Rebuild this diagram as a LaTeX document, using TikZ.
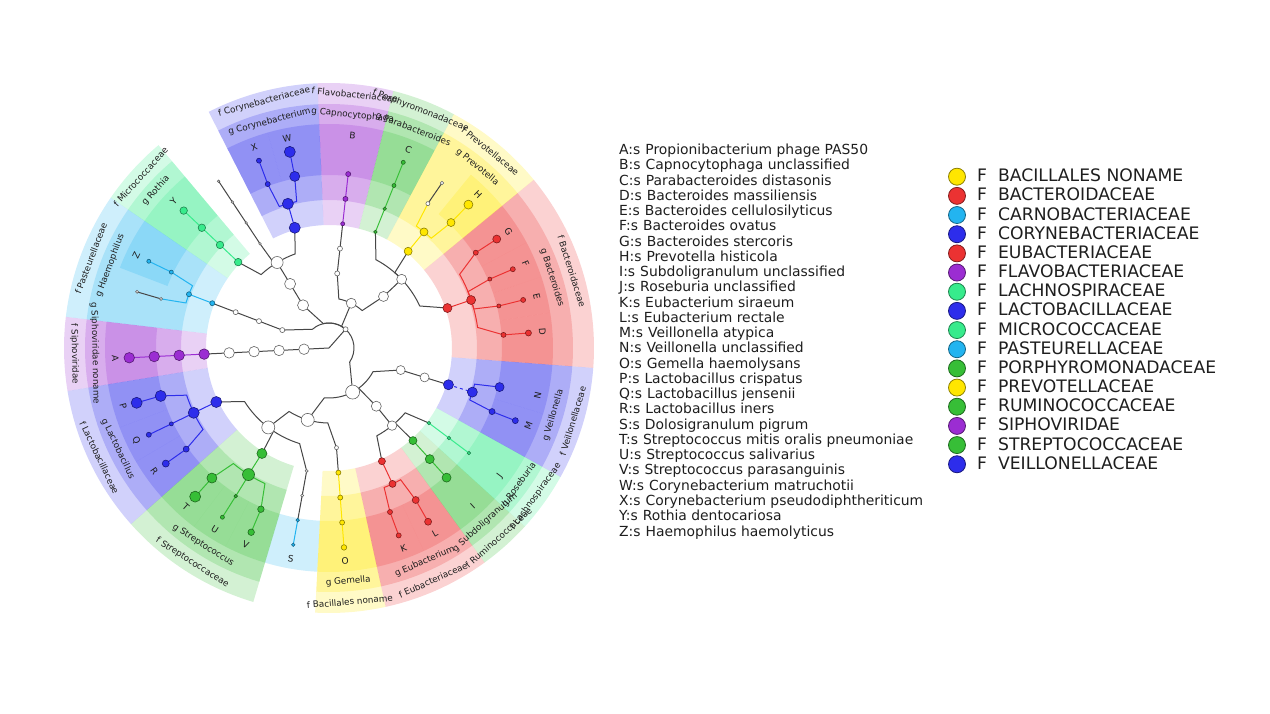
\documentclass[tikz,border=0pt]{standalone}
\usepackage{fontspec}
\setmainfont{DejaVu Sans}
\pgfdeclarelayer{bg}
\pgfdeclarelayer{mid}
\pgfsetlayers{bg,mid,main}
\definecolor{cb}{RGB}{45,45,235}
\definecolor{cr}{RGB}{235,50,50}
\definecolor{cg}{RGB}{55,190,55}
\definecolor{cy}{RGB}{255,230,0}
\definecolor{cp}{RGB}{155,45,210}
\definecolor{cs}{RGB}{55,235,140}
\definecolor{cc}{RGB}{35,180,240}
\definecolor{gl}{RGB}{70,70,70}
\definecolor{gE}{RGB}{100,100,100}
\definecolor{tx}{RGB}{30,30,30}
\newcommand\Nd[5]{\node[mk,minimum size=#4pt,fill=#5,draw=#5!55!black] (#1) at (#2:#3pt) {};}
\newcommand\Nw[4]{\node[mk,minimum size=#4pt,fill=white,draw=gE] (#1) at (#2:#3pt) {};}
\newcommand\Br[6][]{%
  \begin{pgfonlayer}{mid}%
  \ifdim #4pt=#5pt
    \draw[br,#1] (#2.center) -- (#3.center);
  \else
    \pgfmathsetmacro\ea{#4+0.75*(#5-#4)}%
    \draw[br,#1] (#2.center) arc[start angle=#4,end angle=\ea,radius=#6pt] -- (#3.center);
  \fi
  \end{pgfonlayer}}
\newcommand\Sec[5]{\begin{pgfonlayer}{bg}\fill[#5,fill opacity=0.22] (#1:#3pt) arc[start angle=#1,end angle=#2,radius=#3pt] -- (#2:#4pt) arc[start angle=#2,end angle=#1,radius=#4pt] -- cycle;\end{pgfonlayer}}
\newcommand\CF[3]{\Sec{#1}{#2}{123}{265}{#3}}
\newcommand\CG[3]{\Sec{#1}{#2}{148}{244}{#3}}
\newcommand\CS[3]{\Sec{#1}{#2}{173}{224}{#3}}
\newcommand\Rl[5][rl]{%
  \pgfmathsetmacro\rr{ifthenelse(mod(#3,360)<180,#3-90,#3+90)}%
  \node[#1,rotate=\rr] (#2) at (#3:#4pt) {#5};}
\begin{document}
\begin{tikzpicture}[x=1pt,y=1pt,
  mk/.style={circle,inner sep=0pt,line width=0.6pt},
  br/.style={draw=gl,line width=1pt},
  rl/.style={inner sep=0pt,font=\fontsize{8.8}{10}\selectfont,text=tx},
  lt/.style={inner sep=0pt,font=\fontsize{9}{10}\selectfont,text=tx},
  lg/.style={inner sep=0pt,font=\fontsize{13.9}{15}\selectfont,text=tx},
  lf/.style={inner sep=0pt,font=\fontsize{17.2}{20}\selectfont,text=tx},
  lc/.style={circle,inner sep=0pt,minimum size=17pt,line width=0.8pt}]
\useasboundingbox (0,0) rectangle (1270,-714);
\begin{scope}[shift={(329,-348)}]
% ---------- background wedges
\CF{173.25}{189.35}{cp}\CG{173.25}{189.35}{cp}\CS{173.25}{189.35}{cp}
\CF{189.35}{221.65}{cb}\CG{189.35}{221.65}{cb}\CS{189.35}{200.8}{cb}\CS{200.8}{210.5}{cb}\CS{210.5}{221.65}{cb}
\CF{221.65}{253.4}{cg}\CG{221.65}{253.4}{cg}\CS{221.65}{232.9}{cg}\CS{232.9}{242.45}{cg}\CS{242.45}{253.4}{cg}
\CS{253.4}{267}{cc}
\CF{267}{282.35}{cy}\CG{267}{282.35}{cy}\CS{267}{282.35}{cy}
\CF{282.35}{305.95}{cr}\CG{282.35}{305.95}{cr}\CS{282.35}{295.05}{cr}\CS{295.05}{305.95}{cr}
\CF{305.95}{317.65}{cg}\CG{305.95}{317.65}{cg}\CS{305.95}{317.65}{cg}
\CF{317.65}{330.9}{cs}\CG{317.65}{330.9}{cs}\CS{317.65}{330.9}{cs}
\CF{330.9}{355.7}{cb}\CG{330.9}{355.7}{cb}\CS{330.9}{342.9}{cb}\CS{342.9}{355.7}{cb}
\CF{355.7}{399.4}{cr}\CG{355.7}{399.4}{cr}\CS{355.7}{369.1}{cr}\CS{369.1}{378.55}{cr}\CS{378.55}{388.1}{cr}\CS{388.1}{399.4}{cr}
\CF{399.4}{421.9}{cy}\CG{399.4}{421.9}{cy}\CS{399.4}{410.7}{cy}
\CF{421.9}{435.95}{cg}\CG{421.9}{435.95}{cg}\CS{421.9}{435.95}{cg}
\CF{435.95}{452.5}{cp}\CG{435.95}{452.5}{cp}\CS{435.95}{452.5}{cp}
\CF{452.5}{477}{cb}\CG{452.5}{477}{cb}\CS{452.5}{465.9}{cb}\CS{465.9}{477}{cb}
\CF{490.05}{505.45}{cs}\CG{490.05}{505.45}{cs}\CS{490.05}{505.45}{cs}
\CF{505.45}{533.25}{cc}\CG{505.45}{533.25}{cc}\CS{505.45}{519}{cc}
% ---------- nodes
\coordinate (root) at (0,0);
\Nw{kV}{182.8}{25}{10.5}
\Nw{pV}{182.8}{50}{10.5}
\Nw{cV}{182.8}{75}{10.5}
\Nw{oV}{182.8}{100}{10.5}
\Nd{fA}{182.8}{125}{10.5}{cp}
\Nd{gA}{182.8}{150}{10.5}{cp}
\Nd{sA}{182.8}{175}{10.5}{cp}
\Nd{tA}{182.8}{200}{10.5}{cp}
\Nw{kB}{408.6}{25}{5}
\Nw{pF}{298.2}{50}{14}
\Nw{cBa}{253.5}{75}{13}
\Nw{oLa}{232.6}{100}{13}
\Nd{fLa}{205.6}{125}{11}{cb}
\Nd{gLa}{205.6}{150}{11}{cb}
\Nd{sP}{195.9}{175}{11}{cb}
\Nd{tP}{195.9}{200}{11}{cb}
\Nd{sQ}{205.7}{175}{4}{cb}
\Nd{tQ}{205.7}{200}{5}{cb}
\Nd{sR}{215.3}{175}{6}{cb}
\Nd{tR}{215.3}{200}{7}{cb}
\Nd{fSt}{237.55}{125}{10}{cg}
\Nd{gSt}{237.55}{150}{12}{cg}
\Nd{sT}{228}{175}{10}{cg}
\Nd{tT}{228}{200}{11}{cg}
\Nd{sU}{237.8}{175}{3.5}{cg}
\Nd{tU}{237.8}{200}{4}{cg}
\Nd{sV}{247.1}{175}{6.5}{cg}
\Nd{tV}{247.1}{200}{6.5}{cg}
\Nw{fCa}{259.7}{125}{3}
\Nw{gCa}{259.7}{150}{3}
\Nd{sS}{259.7}{175}{3.5}{cc}
\Nd{tS}{259.7}{200}{3.5}{cc}
\Nw{oBc}{274.3}{100}{4}
\Nd{fGe}{274.3}{125}{5}{cy}
\Nd{gGe}{274.3}{150}{5}{cy}
\Nd{sO}{274.3}{175}{5}{cy}
\Nd{tO}{274.3}{200}{5.5}{cy}
\Nw{cCl}{309.1}{75}{10}
\Nw{oCl}{309.1}{100}{9.5}
\Nd{fEu}{295.05}{125}{7}{cr}
\Nd{gEu}{295.05}{150}{7}{cr}
\Nd{sK}{290.4}{175}{5}{cr}
\Nd{tK}{290.4}{200}{5}{cr}
\Nd{sL}{299.7}{175}{7}{cr}
\Nd{tL}{299.7}{200}{7}{cr}
\Nd{fRu}{312.2}{125}{8}{cg}
\Nd{gRu}{312.2}{150}{9}{cg}
\Nd{sI}{312.2}{175}{9}{cg}
\Nd{fLc}{323.1}{125}{3.5}{cs}
\Nd{gLc}{323.1}{150}{3.5}{cs}
\Nd{sJ}{323.1}{175}{3.5}{cs}
\Nw{cNe}{342.9}{75}{9}
\Nw{oSe}{342.9}{100}{9}
\Nd{fVe}{342.9}{125}{10}{cb}
\Nd{gVe}{342.9}{150}{10}{cb}
\Nd{sM}{338.7}{175}{6}{cb}
\Nd{tM}{338.7}{200}{6}{cb}
\Nd{sN}{347.1}{175}{9}{cb}
\Nw{pBd}{423.55}{50}{10}
\Nw{cBd}{403.4}{75}{10}
\Nw{oBd}{403.4}{100}{10}
\Nd{fBc}{378.65}{125}{9}{cr}
\Nd{gBc}{378.65}{150}{9}{cr}
\Nd{sD}{364.3}{175}{5}{cr}
\Nd{tD}{364.3}{200}{6}{cr}
\Nd{sE}{373.9}{175}{4}{cr}
\Nd{tE}{373.9}{200}{5}{cr}
\Nd{sF}{383.2}{175}{4}{cr}
\Nd{tF}{383.2}{200}{5}{cr}
\Nd{sG}{393}{175}{5}{cr}
\Nd{tG}{393}{200}{8}{cr}
\Nd{fPv}{410.7}{125}{8}{cy}
\Nd{gPv}{410.7}{150}{8}{cy}
\Nd{sH}{405.8}{175}{8}{cy}
\Nd{tH}{405.8}{200}{9}{cy}
\Nw{sHb}{415.6}{175}{4}
\Nw{tHb}{415.6}{200}{3.5}
\Nd{fPo}{428.2}{125}{3.5}{cg}
\Nd{gPo}{428.2}{150}{3.5}{cg}
\Nd{sC}{428.2}{175}{4}{cg}
\Nd{tC}{428.2}{200}{4}{cg}
\Nw{cFl}{443.7}{75}{5}
\Nw{oFl}{443.7}{100}{5}
\Nd{fFl}{443.7}{125}{4}{cp}
\Nd{gFl}{443.7}{150}{5}{cp}
\Nd{sB}{443.7}{175}{5}{cp}
\Nw{pAc}{481.25}{50}{11}
\Nw{cAc}{481.25}{75}{11}
\Nw{oAc}{481.25}{100}{12}
\Nd{fCo}{465.9}{125}{11}{cb}
\Nd{gCo}{465.9}{150}{11}{cb}
\Nd{sW}{461.3}{175}{10}{cb}
\Nd{tW}{461.3}{200}{11}{cb}
\Nd{sX}{470.5}{175}{5}{cb}
\Nd{tX}{470.5}{200}{5}{cb}
\Nw{fPr}{483.5}{125}{2.5}
\Nw{gPr}{483.5}{150}{2.5}
\Nw{sPr}{483.5}{175}{2.5}
\Nw{tPr}{483.5}{200}{2.5}
\Nd{fMi}{496.6}{125}{7.5}{cs}
\Nd{gMi}{496.6}{150}{7.5}{cs}
\Nd{sY}{496.6}{175}{7.5}{cs}
\Nd{tY}{496.6}{200}{7.5}{cs}
\Nw{pPt}{519}{50}{5}
\Nw{cPt}{519}{75}{5}
\Nw{oPt}{519}{100}{5}
\Nd{fPt}{519}{125}{5}{cc}
\Nd{gPt}{519}{150}{5}{cc}
\Nd{sZ}{514.3}{175}{4}{cc}
\Nd{tZ}{514.3}{200}{4}{cc}
\Nw{sZb}{523.7}{175}{3}
\Nw{tZb}{523.7}{200}{3}
% ---------- branches
\begin{pgfonlayer}{mid}\draw[br] (root) -- (kV.center); \draw[br] (root) -- (kB.center);\end{pgfonlayer}
\Br{kV}{pV}{182.8}{182.8}{25}
\Br{pV}{cV}{182.8}{182.8}{50}
\Br{cV}{oV}{182.8}{182.8}{75}
\Br{oV}{fA}{182.8}{182.8}{100}
\Br[cp]{fA}{gA}{182.8}{182.8}{125}
\Br[cp]{gA}{sA}{182.8}{182.8}{150}
\Br[cp]{sA}{tA}{182.8}{182.8}{175}
\Br{kB}{pF}{408.6}{298.2}{25}
\Br{kB}{pBd}{408.6}{423.55}{25}
\Br{kB}{pAc}{408.6}{481.25}{25}
\Br{kB}{pPt}{408.6}{519}{25}
\Br{pF}{cBa}{298.2}{253.5}{50}
\Br{pF}{cCl}{298.2}{309.1}{50}
\Br{pF}{cNe}{298.2}{342.9}{50}
\Br{cBa}{oLa}{253.5}{232.6}{75}
\Br{cBa}{oBc}{253.5}{274.3}{75}
\Br{oLa}{fLa}{232.6}{205.6}{100}
\Br{oLa}{fSt}{232.6}{237.55}{100}
\Br{oLa}{fCa}{232.6}{259.7}{100}
\Br[cb]{fLa}{gLa}{205.6}{205.6}{125}
\Br[cb]{gLa}{sP}{205.6}{195.9}{150}
\Br[cb]{gLa}{sQ}{205.6}{205.7}{150}
\Br[cb]{gLa}{sR}{205.6}{215.3}{150}
\Br[cb]{sP}{tP}{195.9}{195.9}{175}
\Br[cb]{sQ}{tQ}{205.7}{205.7}{175}
\Br[cb]{sR}{tR}{215.3}{215.3}{175}
\Br[cg]{fSt}{gSt}{237.55}{237.55}{125}
\Br[cg]{gSt}{sT}{237.55}{228}{150}
\Br[cg]{gSt}{sU}{237.55}{237.8}{150}
\Br[cg]{gSt}{sV}{237.55}{247.1}{150}
\Br[cg]{sT}{tT}{228}{228}{175}
\Br[cg]{sU}{tU}{237.8}{237.8}{175}
\Br[cg]{sV}{tV}{247.1}{247.1}{175}
\Br{fCa}{gCa}{259.7}{259.7}{125}
\Br{gCa}{sS}{259.7}{259.7}{150}
\Br[cc]{sS}{tS}{259.7}{259.7}{175}
\Br{oBc}{fGe}{274.3}{274.3}{100}
\Br[cy]{fGe}{gGe}{274.3}{274.3}{125}
\Br[cy]{gGe}{sO}{274.3}{274.3}{150}
\Br[cy]{sO}{tO}{274.3}{274.3}{175}
\Br{cCl}{oCl}{309.1}{309.1}{75}
\Br{oCl}{fEu}{309.1}{295.05}{100}
\Br{oCl}{fRu}{309.1}{312.2}{100}
\Br{oCl}{fLc}{309.1}{323.1}{100}
\Br[cr]{fEu}{gEu}{295.05}{295.05}{125}
\Br[cr]{gEu}{sK}{295.05}{290.4}{150}
\Br[cr]{gEu}{sL}{295.05}{299.7}{150}
\Br[cr]{sK}{tK}{290.4}{290.4}{175}
\Br[cr]{sL}{tL}{299.7}{299.7}{175}
\Br[cg]{fRu}{gRu}{312.2}{312.2}{125}
\Br[cg]{gRu}{sI}{312.2}{312.2}{150}
\Br[cs]{fLc}{gLc}{323.1}{323.1}{125}
\Br[cs]{gLc}{sJ}{323.1}{323.1}{150}
\Br{cNe}{oSe}{342.9}{342.9}{75}
\Br{oSe}{fVe}{342.9}{342.9}{100}
\Br[cb,dashed]{fVe}{gVe}{342.9}{342.9}{125}
\Br[cb]{gVe}{sM}{342.9}{338.7}{150}
\Br[cb]{gVe}{sN}{342.9}{347.1}{150}
\Br[cb]{sM}{tM}{338.7}{338.7}{175}
\Br{pBd}{cBd}{423.55}{403.4}{50}
\Br{pBd}{cFl}{423.55}{443.7}{50}
\Br{cBd}{oBd}{403.4}{403.4}{75}
\Br{oBd}{fBc}{403.4}{378.65}{100}
\Br{oBd}{fPv}{403.4}{410.7}{100}
\Br{oBd}{fPo}{403.4}{428.2}{100}
\Br[cr]{fBc}{gBc}{378.65}{378.65}{125}
\Br[cr]{gBc}{sD}{378.65}{364.3}{150}
\Br[cr]{gBc}{sE}{378.65}{373.9}{150}
\Br[cr]{gBc}{sF}{378.65}{383.2}{150}
\Br[cr]{gBc}{sG}{378.65}{393}{150}
\Br[cr]{sD}{tD}{364.3}{364.3}{175}
\Br[cr]{sE}{tE}{373.9}{373.9}{175}
\Br[cr]{sF}{tF}{383.2}{383.2}{175}
\Br[cr]{sG}{tG}{393}{393}{175}
\Br[cy]{fPv}{gPv}{410.7}{410.7}{125}
\Br[cy]{gPv}{sH}{410.7}{405.8}{150}
\Br[cy]{gPv}{sHb}{410.7}{415.6}{150}
\Br[cy]{sH}{tH}{405.8}{405.8}{175}
\Br{sHb}{tHb}{415.6}{415.6}{175}
\Br[cg]{fPo}{gPo}{428.2}{428.2}{125}
\Br[cg]{gPo}{sC}{428.2}{428.2}{150}
\Br[cg]{sC}{tC}{428.2}{428.2}{175}
\Br{cFl}{oFl}{443.7}{443.7}{75}
\Br{oFl}{fFl}{443.7}{443.7}{100}
\Br[cp]{fFl}{gFl}{443.7}{443.7}{125}
\Br[cp]{gFl}{sB}{443.7}{443.7}{150}
\Br{pAc}{cAc}{481.25}{481.25}{50}
\Br{cAc}{oAc}{481.25}{481.25}{75}
\Br{oAc}{fCo}{481.25}{465.9}{100}
\Br{oAc}{fPr}{481.25}{483.5}{100}
\Br{oAc}{fMi}{481.25}{496.6}{100}
\Br[cb]{fCo}{gCo}{465.9}{465.9}{125}
\Br[cb]{gCo}{sW}{465.9}{461.3}{150}
\Br[cb]{gCo}{sX}{465.9}{470.5}{150}
\Br[cb]{sW}{tW}{461.3}{461.3}{175}
\Br[cb]{sX}{tX}{470.5}{470.5}{175}
\Br{fPr}{gPr}{483.5}{483.5}{125}
\Br{gPr}{sPr}{483.5}{483.5}{150}
\Br{sPr}{tPr}{483.5}{483.5}{175}
\Br[cs]{fMi}{gMi}{496.6}{496.6}{125}
\Br[cs]{gMi}{sY}{496.6}{496.6}{150}
\Br[cs]{sY}{tY}{496.6}{496.6}{175}
\Br{pPt}{cPt}{519}{519}{50}
\Br{cPt}{oPt}{519}{519}{75}
\Br{oPt}{fPt}{519}{519}{100}
\Br[cc]{fPt}{gPt}{519}{519}{125}
\Br[cc]{gPt}{sZ}{519}{514.3}{150}
\Br[cc]{gPt}{sZb}{519}{523.7}{150}
\Br[cc]{sZ}{tZ}{514.3}{514.3}{175}
\Br{sZb}{tZb}{523.7}{523.7}{175}
% ---------- ring labels
\Rl{g1}{181.3}{234}{g Siphoviridae noname}\Rl{f1}{181.3}{254.5}{f Siphoviridae}
\Rl{g2}{205.5}{234}{g Lactobacillus}\Rl{f2}{205.5}{254.5}{f Lactobacillaceae}
\Rl{g3}{237.5}{234}{g Streptococcus}\Rl{f3}{237.5}{254.5}{f Streptococcaceae}
\Rl{g4}{274.7}{234}{g Gemella}\Rl{f4}{274.7}{254.5}{f Bacillales noname}
\Rl{g5}{294.15}{234}{g Eubacterium}\Rl{f5}{294.15}{254.5}{f Eubacteriaceae}
\Rl{g6}{311.8}{234}{g Subdoligranulum}\Rl{f6}{311.8}{254.5}{f Ruminococcaceae}
\Rl{g7}{324.3}{234}{g Roseburia}\Rl{f7}{324.3}{254.5}{f Lachnospiraceae}
\Rl{g8}{343.3}{234}{g Veillonella}\Rl{f8}{343.3}{254.5}{f Veillonellaceae}
\Rl{g9}{377.55}{234}{g Bacteroides}\Rl{f9}{377.55}{254.5}{f Bacteroidaceae}
\Rl{g10}{410.65}{234}{g Prevotella}\Rl{f10}{410.65}{254.5}{f Prevotellaceae}
\Rl{g11}{428.9}{234}{g Parabacteroides}\Rl{f11}{428.9}{254.5}{f Porphyromonadaceae}
\Rl{g12}{444.2}{234}{g Capnocytophaga}\Rl{f12}{444.2}{254.5}{f Flavobacteriaceae}
\Rl{g13}{464.75}{234}{g Corynebacterium}\Rl{f13}{464.75}{254.5}{f Corynebacteriaceae}
\Rl{g14}{497.75}{234}{g Rothia}\Rl{f14}{497.75}{254.5}{f Micrococcaceae}
\Rl{g15}{519.35}{234}{g Haemophilus}\Rl{f15}{519.35}{254.5}{f Pasteurellaceae}
% ---------- letters
\Rl[lt]{LA}{182.8}{214}{A}\Rl[lt]{LP}{195.9}{214}{P}\Rl[lt]{LQ}{205.7}{214}{Q}
\Rl[lt]{LR}{215.3}{214}{R}\Rl[lt]{LT}{228}{214}{T}\Rl[lt]{LU}{237.8}{214}{U}
\Rl[lt]{LV}{247.1}{214}{V}\Rl[lt]{LS}{259.7}{214}{S}\Rl[lt]{LO}{274.3}{214}{O}
\Rl[lt]{LK}{290.4}{214}{K}\Rl[lt]{LL}{299.7}{214}{L}\Rl[lt]{LI}{312.2}{214}{I}
\Rl[lt]{LJ}{323.1}{214}{J}\Rl[lt]{LM}{338.7}{214}{M}\Rl[lt]{LN}{347.1}{214}{N}
\Rl[lt]{LD}{364.3}{214}{D}\Rl[lt]{LE}{373.9}{214}{E}\Rl[lt]{LF}{383.2}{214}{F}
\Rl[lt]{LG}{393}{214}{G}\Rl[lt]{LH}{405.8}{214}{H}\Rl[lt]{LC}{428.2}{214}{C}
\Rl[lt]{LB}{443.7}{214}{B}\Rl[lt]{LW}{461.3}{214}{W}\Rl[lt]{LX}{470.5}{214}{X}
\Rl[lt]{LY}{496.6}{214}{Y}\Rl[lt]{LZ}{514.3}{214}{Z}
\end{scope}
% ---------- species legend
\foreach \lb/\nm [count=\i from 0] in {A/Propionibacterium phage PAS50,B/Capnocytophaga unclassified,C/Parabacteroides distasonis,D/Bacteroides massiliensis,E/Bacteroides cellulosilyticus,F/Bacteroides ovatus,G/Bacteroides stercoris,H/Prevotella histicola,I/Subdoligranulum unclassified,J/Roseburia unclassified,K/Eubacterium siraeum,L/Eubacterium rectale,M/Veillonella atypica,N/Veillonella unclassified,O/Gemella haemolysans,P/Lactobacillus crispatus,Q/Lactobacillus jensenii,R/Lactobacillus iners,S/Dolosigranulum pigrum,T/Streptococcus mitis oralis pneumoniae,U/Streptococcus salivarius,V/Streptococcus parasanguinis,W/Corynebacterium matruchotii,X/Corynebacterium pseudodiphtheriticum,Y/Rothia dentocariosa,Z/Haemophilus haemolyticus}
  {\node[lg,anchor=base west] (sp\i) at (619,{-154.5-15.26*\i}) {\lb:s\hspace{5pt}\nm};}
% ---------- family legend
\foreach \cl/\tx [count=\i from 0] in {cy/BACILLALES NONAME,cr/BACTEROIDACEAE,cc/CARNOBACTERIACEAE,cb/CORYNEBACTERIACEAE,cr/EUBACTERIACEAE,cp/FLAVOBACTERIACEAE,cs/LACHNOSPIRACEAE,cb/LACTOBACILLACEAE,cs/MICROCOCCACEAE,cc/PASTEURELLACEAE,cg/PORPHYROMONADACEAE,cy/PREVOTELLACEAE,cg/RUMINOCOCCACEAE,cp/SIPHOVIRIDAE,cg/STREPTOCOCCACEAE,cb/VEILLONELLACEAE}
  {\node[lc,fill=\cl,draw=\cl!55!black] (fc\i) at (957,{-176.7-19.17*\i}) {};
   \node[lf,anchor=base west] (fl\i) at (977,{-181.7-19.17*\i}) {F\hspace{11pt}\tx};}
\end{tikzpicture}
\end{document}
